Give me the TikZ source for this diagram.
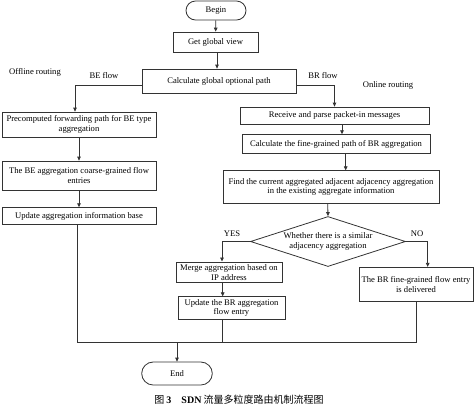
\documentclass[tikz,border=0pt]{standalone}
\usepackage{fontspec}
\setmainfont{Liberation Serif}
\newfontfamily\cjkfont{Noto Sans CJK SC}
\usetikzlibrary{shapes.geometric,arrows.meta,calc}
\begin{document}
\begin{tikzpicture}[x=1pt,y=-1pt,
 box/.style={draw=black!80,line width=0.8pt,rectangle,inner sep=0.5pt,align=center,font=\fontsize{8.6}{9.6}\selectfont},
 term/.style={box,rounded corners=9.5pt},
 lbl/.style={font=\fontsize{8.6}{9.6}\selectfont,inner sep=0pt},
 arr/.style={-{Triangle[length=4pt,width=3.6pt]},draw=black!80,line width=0.8pt},
 ln/.style={draw=black!80,line width=0.8pt}]
\useasboundingbox (0,0) rectangle (474,405);

% nodes
\node[term,minimum width=60pt,minimum height=19pt] (begin) at (216,10.5) {Begin};
\node[box,minimum width=85pt,minimum height=20pt] (getview) at (215.5,42) {Get global view};
\node[box,minimum width=154pt,minimum height=24pt] (calc) at (219,81) {Calculate global optional path};
\node[box,minimum width=154pt,minimum height=25pt] (pre) at (79,124.5) {Precomputed forwarding path for BE type\\aggregation};
\node[box,minimum width=154pt,minimum height=29pt] (beagg) at (79,175.5) {The BE aggregation coarse-grained flow\\entries};
\node[box,minimum width=154pt,minimum height=16.6pt] (updinfo) at (79,216) {Update aggregation information base};
\node[box,minimum width=189pt,minimum height=17pt] (receive) at (334.5,115.5) {Receive and parse packet-in messages};
\node[box,minimum width=188pt,minimum height=18.6pt] (calcfine) at (336,144) {Calculate the fine-grained path of BR aggregation};
\node[box,minimum width=216pt,minimum height=32.6pt] (find) at (331,187) {Find the current aggregated adjacent adjacency aggregation\\in the existing aggregate information};
\node[box,shape=diamond,aspect=3.1,inner sep=0pt,minimum width=155pt,minimum height=50pt] (dec) at (328,241.5) {Whether there is a similar\\adjacency aggregation};
\node[box,minimum width=106pt,minimum height=20.7pt] (merge) at (229,272.3) {Merge aggregation based on\\IP address};
\node[box,minimum width=107pt,minimum height=22.6pt] (updbr) at (231.5,308) {Update the BR aggregation\\flow entry};
\node[box,minimum width=114pt,minimum height=34pt] (brfine) at (416,284.3) {The BR fine-grained flow entry\\is delivered};
\node[term,rounded corners=11.5pt,minimum width=70.6pt,minimum height=23pt] (end) at (177,373.5) {End};

% labels
\node[lbl] (offl) at (35,72.5) {Offline routing};
\node[lbl] (bel) at (104,75.5) {BE flow};
\node[lbl] (brl) at (323,75.5) {BR flow};
\node[lbl] (onl) at (388,85.5) {Online routing};
\node[lbl] (yes) at (232,233.5) {YES};
\node[lbl] (no) at (417,233.5) {NO};

% connectors
\draw[arr] (begin) -- (getview);
\draw[arr] ([xshift=1.5pt]getview.south) -- ([xshift=1.5pt]getview.south |- calc.north);
\draw[arr] ([yshift=-4pt]calc.west) -| ([xshift=-4pt]pre.north);
\draw[arr] ([yshift=-4pt]calc.east) -| (receive.north);
\draw[arr] (pre) -- (beagg);
\draw[arr] (beagg) -- (updinfo);
\draw[arr] ([xshift=7.5pt]receive.south) -- ([xshift=7.5pt]receive.south |- calcfine.north);
\draw[arr] ([xshift=9.7pt]calcfine.south) -- ([xshift=9.7pt]calcfine.south |- find.north);
\draw[arr] ([xshift=-3.3pt]find.south) -- (dec.north);
\draw[arr] (dec.west) -| ([xshift=-7pt]merge.north);
\draw[arr] (dec.east) -| ([xshift=11.7pt]brfine.north);
\draw[arr] ([xshift=-6.3pt]merge.south) -- ([xshift=-6.3pt]merge.south |- updbr.north);

\coordinate (jl) at (77.3,342.3);
\coordinate (jr) at (416.7,342.3);
\coordinate (jm) at (177,342.3);
\draw[ln] ([xshift=-1.7pt]updinfo.south) -- (jl) -- (jr) -- (brfine.south -| jr);
\draw[ln] ([xshift=-8.8pt]updbr.south) -- ([xshift=-8.8pt]updbr.south |- jl);
\draw[arr] (jm) -- (end.north);

% caption
\node[inner sep=0pt,font=\cjkfont\fontsize{10}{12}\selectfont] (cap) at (239,400) {图 {\rmfamily\bfseries 3}\quad {\rmfamily\bfseries SDN} 流量多粒度路由机制流程图};
\end{tikzpicture}
\end{document}
